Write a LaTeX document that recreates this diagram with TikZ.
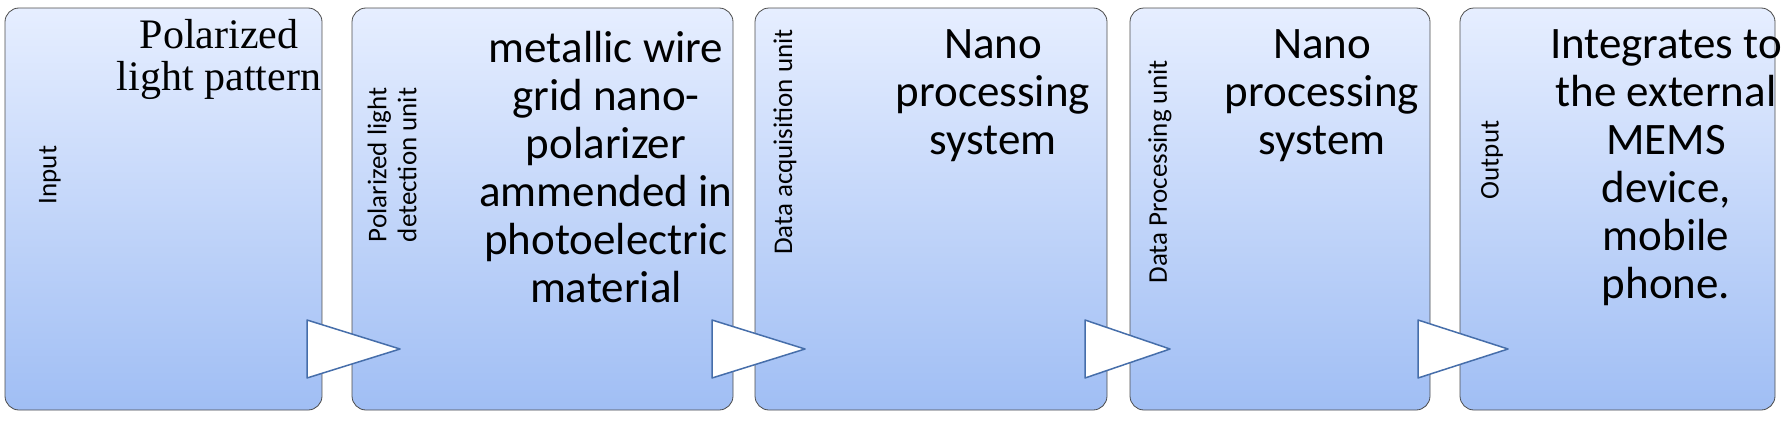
\documentclass[tikz,border=0pt]{standalone}
\usepackage{fontspec}
\setmainfont{Carlito}
\newfontfamily\serifx{Liberation Serif}
\begin{document}
\begin{tikzpicture}[x=1pt,y=-1pt,
  box/.style={draw=black!70,line width=0.8pt,rounded corners=14pt,top color={rgb,255:red,230;green,238;blue,255},bottom color={rgb,255:red,160;green,190;blue,244}},
  tri/.style={draw={rgb,255:red,70;green,110;blue,170},fill=white,line width=1.5pt,line join=round},
  main/.style={font=\fontsize{45}{48}\selectfont,align=center,anchor=north},
  side/.style={font=\fontsize{27}{30}\selectfont,align=left,rotate=90}]
\useasboundingbox (0,0) rectangle (1787,431);
\path[box] (5,8) rectangle (322,410);
\path[box] (352,8) rectangle (733,410);
\path[box] (755,8) rectangle (1107,410);
\path[box] (1130,8) rectangle (1430,410);
\path[box] (1460,8) rectangle (1775,410);
\foreach \a/\b in {307/400,712/805,1085/1170,1418/1508}
  \path[tri] (\a,320) -- (\b,349) -- (\a,378) -- cycle;
\node[main,font=\serifx\fontsize{42}{42}\selectfont] (t1) at (219,16) {Polarized\\light pattern};
\node[main] (t2) at (606,28) {metallic wire\\grid nano-\\polarizer\\ammended in\\photoelectric\\material};
\node[main] (t3) at (993,26) {Nano\\processing\\system};
\node[main] (t4) at (1322,26) {Nano\\processing\\system};
\node[main] (t5) at (1666,26) {Integrates to\\the external\\MEMS\\device,\\mobile\\phone.};
\node[side] (s1) at (50,175) {Input};
\node[side] (s2) at (392,165) {Polarized light\\detection unit};
\node[side] (s3) at (785,142) {Data acquisition unit};
\node[side] (s4) at (1160,172) {Data Processing unit};
\node[side] (s5) at (1492,160) {Output};
\end{tikzpicture}
\end{document}
